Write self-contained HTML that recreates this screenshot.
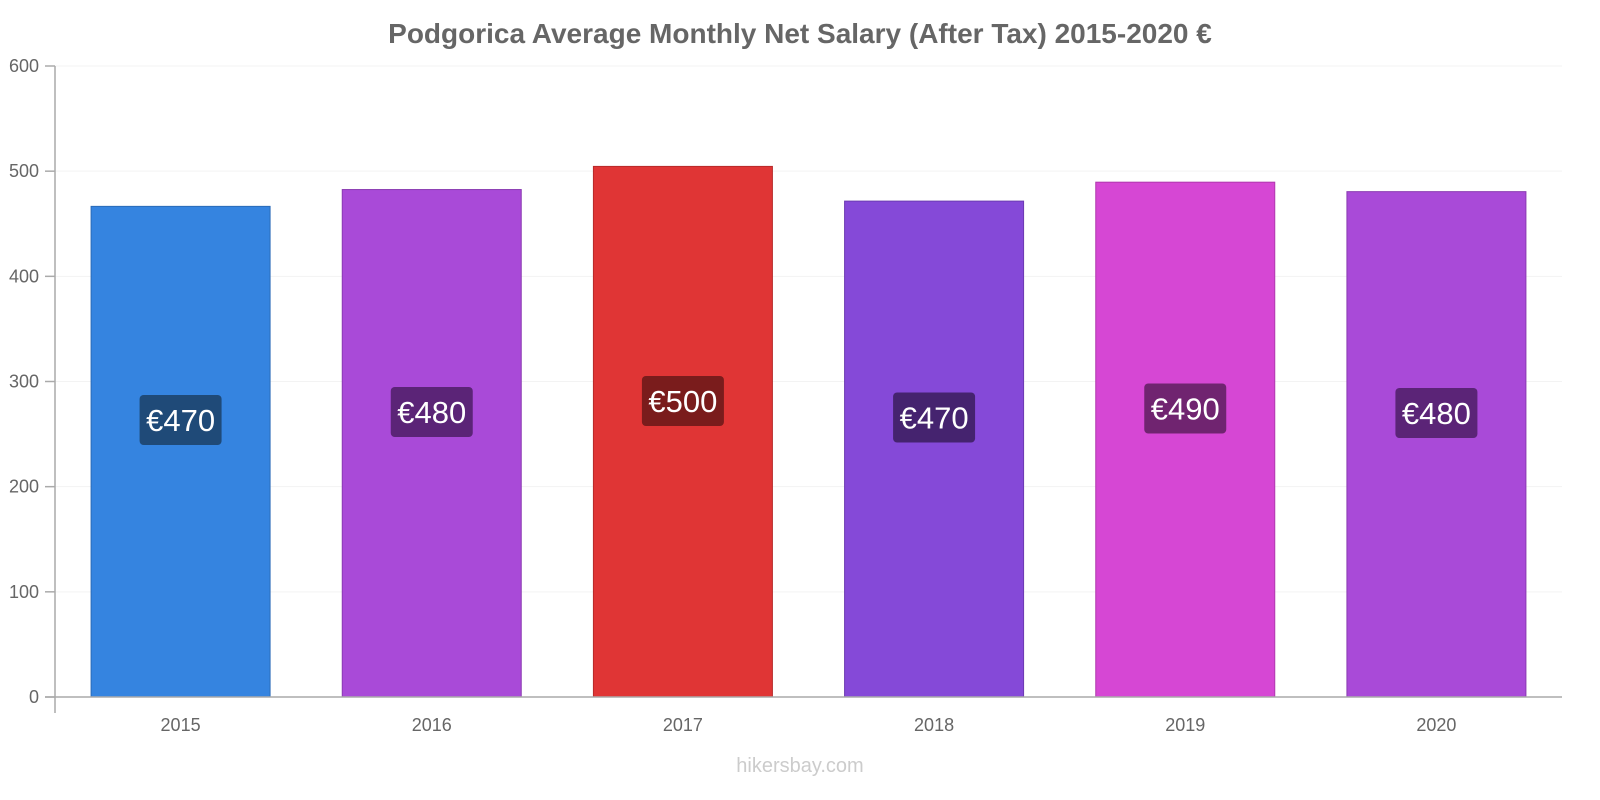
<!DOCTYPE html>
<html><head><meta charset="utf-8">
<style>
body{margin:0;background:#fff;font-family:"Liberation Sans",sans-serif;}
svg{display:block}
</style></head>
<body>
<svg id="chart" width="1600" height="800">
<text x="800" y="43" text-anchor="middle" font-size="28" font-weight="bold" fill="#666">Podgorica Average Monthly Net Salary (After Tax) 2015-2020 €</text>
<g id="grid"></g>
<g id="bars"></g>
<line x1="55" y1="66" x2="55" y2="713" stroke="#aaa" stroke-width="1.5"/>
<line x1="45" y1="697" x2="1562" y2="697" stroke="#aaa" stroke-width="1.5"/>
<text x="800" y="772" text-anchor="middle" font-size="20" fill="#ccc">hikersbay.com</text>
</svg>
<script>
const categories = ["2015","2016","2017","2018","2019","2020"];
const values = [467, 483, 505, 472, 490, 481];
const valueLabels = ["€470","€480","€500","€470","€490","€480"];
const yTicks = [0,100,200,300,400,500,600];
const barColors = ["#3584e0","#a94ad8","#e03535","#8549d8","#d647d4","#a94ad8"];
const barStrokes = ["#2a6bb8","#8a3ab2","#b82a2a","#6c3ab2","#b038ae","#8a3ab2"];
const labelColors = ["#1f4a78","#5b2477","#7a1c1c","#45236f","#702470","#5b2477"];

const NS = "http://www.w3.org/2000/svg";
const y = v => 697 - v * (631/600);
const bandStart = 55, bandW = (1562-55)/categories.length, barW = 180;
const x = i => bandStart + i*bandW + (bandW-barW)/2;
function mk(tag, attrs, parent){const e=document.createElementNS(NS,tag);for(const k in attrs)e.setAttribute(k,attrs[k]);parent.appendChild(e);return e;}
const grid=document.getElementById('grid'), bars=document.getElementById('bars');
yTicks.forEach(t=>{
  const g = mk('line',{x1:55,x2:1562,y1:y(t),y2:y(t),stroke:'#f3f3f3','stroke-width':1},grid);
  
  
  const tk = mk('line',{x1:45,x2:55,y1:y(t),y2:y(t),stroke:'#aaa','stroke-width':1.5},grid);
  
  
  const tl = mk('text',{x:39,y:y(t)+6,'text-anchor':'end','font-size':18,fill:'#666'},grid);
  tl.textContent=t;
  
  
});
categories.forEach((c,i)=>{
  const r = mk('rect',{x:x(i)+0.5,y:y(values[i])+0.5,width:barW-1,height:y(0)-y(values[i])-0.5,fill:barColors[i],stroke:barStrokes[i],'stroke-width':1},bars);
  
  
  const cx = x(i)+barW/2;
  const cy = 653.5 - 0.5*values[i];
  const lb = mk('rect',{x:cx-41,y:cy-25,width:82,height:50,rx:4,fill:labelColors[i]},bars);
  
  
  const lt = mk('text',{x:cx,y:cy+11,'text-anchor':'middle','font-size':31,fill:'#fff'},bars);
  lt.textContent=valueLabels[i];
  
  
  const xl = mk('text',{x:cx,y:731,'text-anchor':'middle','font-size':18,fill:'#666'},bars);
  xl.textContent=c;
  
  
});
</script>
</body></html>
